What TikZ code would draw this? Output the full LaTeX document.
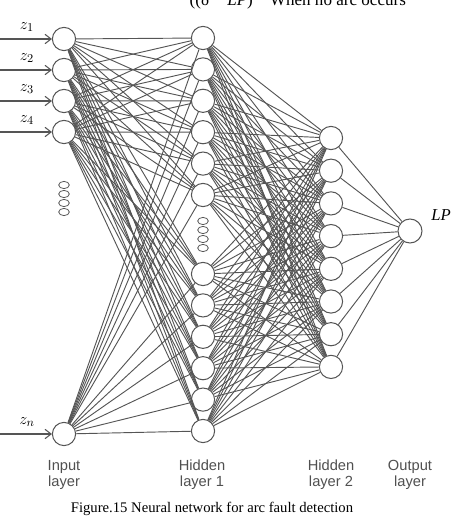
\documentclass[tikz,border=0pt]{standalone}
\usepackage{fontspec}
\setmainfont{Liberation Serif}
\setsansfont{Liberation Sans}
\usetikzlibrary{arrows.meta,positioning}
\definecolor{wiregray}{RGB}{85,85,85}
\definecolor{labelgray}{RGB}{80,80,80}
\tikzset{>={Straight Barb[length=4.5pt,width=7pt]}}
\tikzset{neuron/.style={circle,draw=wiregray,line width=0.75pt,minimum size=17.4pt,inner sep=0pt,fill=white},
  wire/.style={draw=wiregray,line width=0.7pt},
  layername/.style={align=center,text=labelgray,font=\sffamily\fontsize{11}{12.2}\selectfont}}

\begin{document}
\begin{tikzpicture}[x=0.75pt,y=-0.75pt]
\useasboundingbox (0,0) rectangle (474,516);
\node[anchor=base west,font=\fontsize{12.8}{14}\selectfont] (toptext) at (185,6) {((δ − \textit{LP})\quad When no arc occurs};

\foreach \k/\y in {1/39,2/70,3/101,4/132,5/434}
  \node[neuron] (i\k) at (64,\y) {};
\foreach \k in {1,...,6}
  \node[neuron] (h\k) at (203,{38+31.4*(\k-1)}) {};
\foreach \k in {7,...,12}
  \node[neuron] (h\k) at (203,{274+31.4*(\k-7)}) {};
\foreach \k in {1,...,8}
  \node[neuron] (g\k) at (331,{138+32.7*(\k-1)}) {};
\node[neuron,minimum size=18pt] (o) at (410,231) {};

\foreach \a in {1,...,5}
  \foreach \b in {1,...,12}
    \draw[wire] (i\a) -- (h\b);
\foreach \a in {1,...,12}
  \foreach \b in {1,...,8}
    \draw[wire] (h\a) -- (g\b);
\foreach \a in {1,...,8}
  \draw[wire] (g\a) -- (o);

\foreach \k/\y in {1/39,2/70,3/101,4/132,5/434}
  \coordinate (s\k) at (0,\y);
\foreach \k in {1,...,5}
  \draw[wire,line width=0.8pt,->] (s\k) -- (i\k);

\node[font=\fontsize{12.5}{14}\selectfont] (z1) at (27,27) {$z_1$};
\node[font=\fontsize{12.5}{14}\selectfont] (z2) at (27,58) {$z_2$};
\node[font=\fontsize{12.5}{14}\selectfont] (z3) at (27,89) {$z_3$};
\node[font=\fontsize{12.5}{14}\selectfont] (z4) at (27,120) {$z_4$};
\node[font=\fontsize{12.5}{14}\selectfont] (zn) at (27,422) {$z_n$};
\node[font=\itshape\fontsize{12.5}{14}\selectfont] (lp) at (441,215) {LP};

\foreach \y in {185,194,203,212}
  \draw[wiregray,line width=0.6pt] (64,\y) ellipse [x radius=5.3, y radius=3.6];
\foreach \y in {221,230,239,248}
  \draw[wiregray,line width=0.6pt] (203,\y) ellipse [x radius=5.3, y radius=3.6];

\node[layername] (lin) at (64,475) {Input\\layer};
\node[layername] (lh1) at (202,475) {Hidden\\layer 1};
\node[layername] (lh2) at (331,475) {Hidden\\layer 2};
\node[layername] (lout) at (410,475) {Output\\layer};
\node[font=\fontsize{11}{13}\selectfont] (caption) at (212,509) {Figure.15 Neural network for arc fault detection};
\end{tikzpicture}
\end{document}
